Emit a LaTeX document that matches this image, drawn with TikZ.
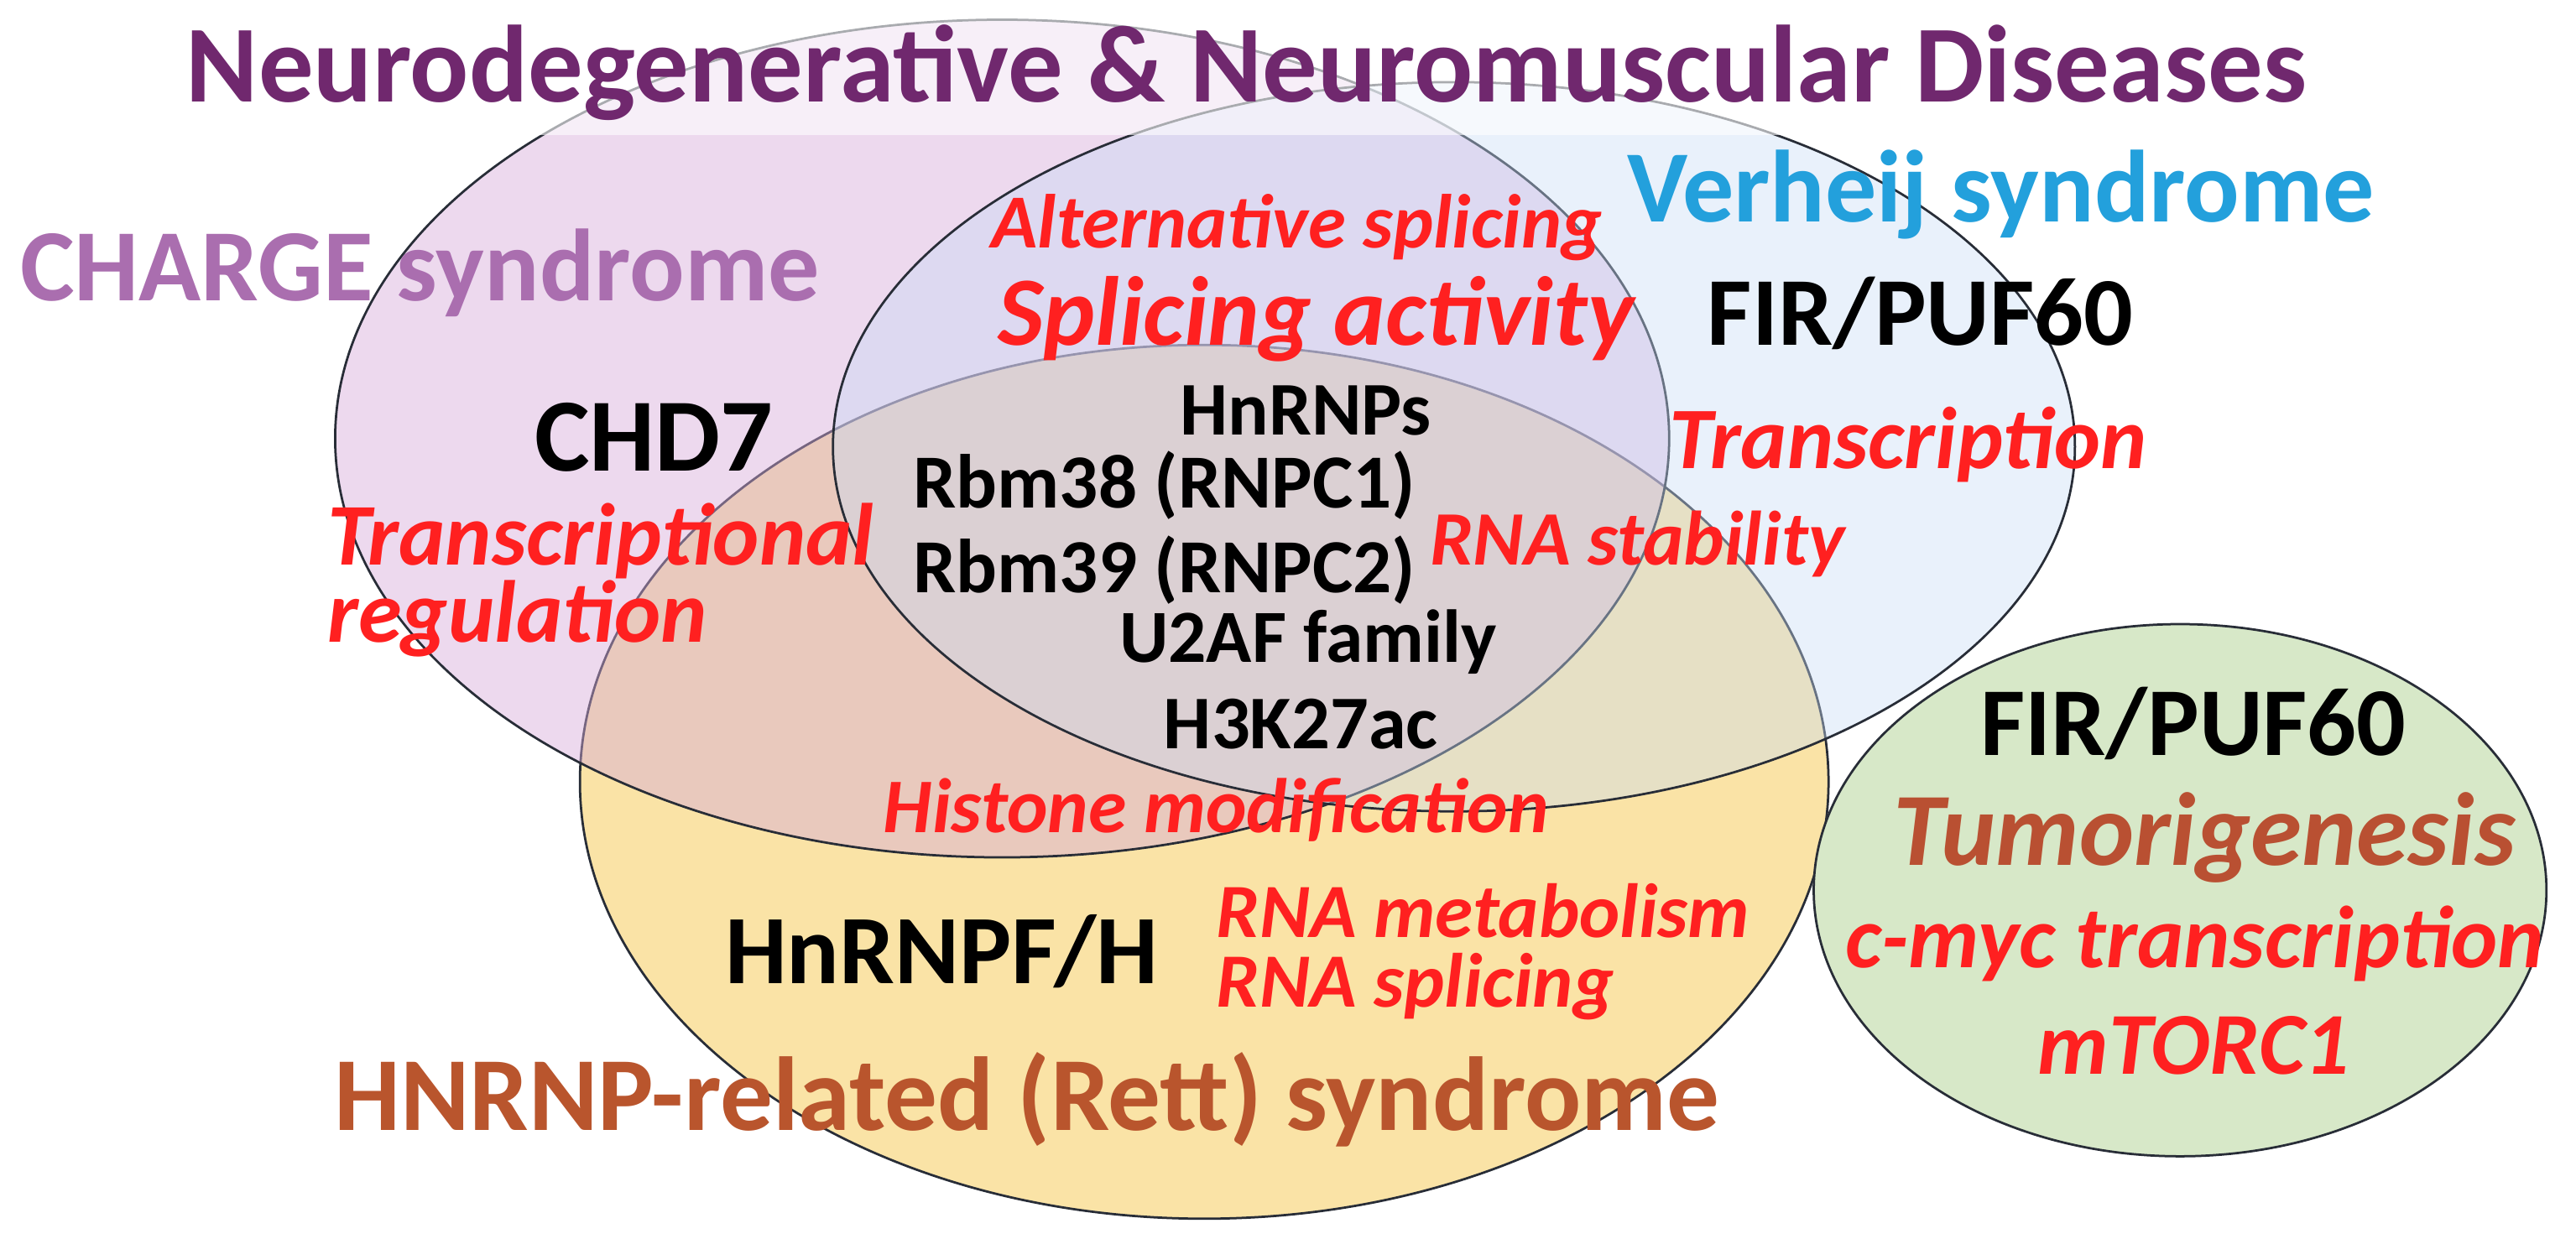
\documentclass[tikz,border=0pt]{standalone}
\usepackage{fontspec}
\setmainfont{Carlito}
\definecolor{vennline}{RGB}{40,45,55}
\definecolor{chargefill}{RGB}{214,170,218}
\definecolor{verheijfill}{RGB}{200,220,245}
\definecolor{hnrnpfill}{RGB}{250,227,166}
\definecolor{tumorfill}{RGB}{215,232,200}
\definecolor{titlepurple}{RGB}{112,40,110}
\definecolor{chargetext}{RGB}{170,110,175}
\definecolor{verheijtext}{RGB}{35,160,220}
\definecolor{retttext}{RGB}{185,85,45}
\definecolor{rolered}{RGB}{255,32,32}
\definecolor{tumortext}{RGB}{185,80,50}
\newcommand{\fsz}[1]{\fontsize{#1}{#1}\selectfont}
\tikzset{
  venn/.style={draw=vennline, line width=0.8pt},
  gene/.style={inner sep=0pt, text=black, font=\fsz{#1}\bfseries},
  role/.style={inner sep=0pt, text=rolered, font=\fsz{#1}\bfseries\itshape},
  disease/.style={inner sep=0pt, font=\fsz{#1}\bfseries},
}
\begin{document}
\begin{tikzpicture}[x=0.2mm, y=-0.2mm]
  \useasboundingbox (0,0) rectangle (1568,754);
  % the four sets
  \fill[hnrnpfill] (733,476) ellipse [x radius=76mm, y radius=53.2mm];
  \draw[venn] (733,476) ellipse [x radius=76mm, y radius=53.2mm];
  \filldraw[venn, fill=chargefill, fill opacity=.45]
    (610,267) ellipse [x radius=81.2mm, y radius=51mm];
  \filldraw[venn, fill=verheijfill, fill opacity=.4]
    (885,272) ellipse [x radius=75.6mm, y radius=44.4mm];
  \filldraw[venn, fill=tumorfill] (1327,542) ellipse [x radius=44.6mm, y radius=32.4mm];
  \fill[white, fill opacity=.6] (105,0) rectangle (1440,82);

  \node[disease=38pt, text=titlepurple, anchor=base west] (title) at (113,62)
    {Neurodegenerative \& Neuromuscular Diseases};
  \node[disease=35.5pt, text=chargetext, anchor=base west] (charge) at (12,183) {CHARGE syndrome};
  \node[disease=35.5pt, text=verheijtext, anchor=base west] (verheij) at (990,135) {Verheij syndrome};
  \node[disease=36.4pt, text=retttext, anchor=base west] (rett) at (203,688)
    {HNRNP-related (Rett) syndrome};

  \node[role=26.5pt, anchor=base west] (altspl) at (603,151) {Alternative splicing};
  \node[role=34pt, anchor=base west] (splact) at (607,210) {Splicing activity};
  \node[gene=33.7pt, anchor=base west] (firpuf) at (1039,210) {FIR/PUF60};
  \node[role=30.4pt, anchor=base west] (transcr) at (1016,285) {Transcription};
  \node[gene=36pt, anchor=base west] (chd7) at (325,287) {CHD7};
  \node[role=30.5pt, anchor=base west, align=left] (transreg) at (199,391)
    {Transcriptional\\[-3.8pt]regulation};

  \node[gene=26.3pt, anchor=base west] (hnrnps) at (718,265) {HnRNPs};
  \node[gene=26.5pt, anchor=base east] (rbm38) at (862,309) {Rbm38 (RNPC1)};
  \node[gene=26.5pt, anchor=base east] (rbm39) at (862,361) {Rbm39 (RNPC2)};
  \node[role=26.7pt, anchor=base west] (rnastab) at (870,344) {RNA stability};
  \node[gene=26pt, anchor=base west] (u2af) at (681,403) {U2AF family};
  \node[gene=26.3pt, anchor=base west] (h3k) at (708,456) {H3K27ac};
  \node[role=26.8pt, anchor=base east] (histmod) at (943,507) {Histone modification};

  \node[gene=34pt, anchor=base west] (hnrnpfh) at (441,599) {HnRNPF/H};
  \node[role=26.6pt, anchor=base west] (rnamet) at (740,571) {RNA metabolism};
  \node[role=26.6pt, anchor=base west] (rnaspl) at (740,613) {RNA splicing};

  \node[gene=33.7pt, anchor=base west] (firpuf2) at (1205,460) {FIR/PUF60};
  \node[role=36pt, text=tumortext, anchor=base west] (tumor) at (1152,527) {Tumorigenesis};
  \node[role=30.5pt, anchor=base west] (cmyc) at (1123,589) {c-myc transcription};
  \node[role=30.6pt, anchor=base west] (mtorc) at (1240,654) {mTORC1};
\end{tikzpicture}
\end{document}
